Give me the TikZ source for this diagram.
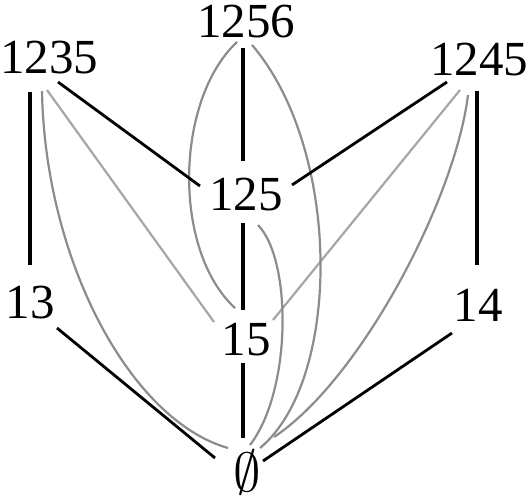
\RequirePackage{fix-cm}
\documentclass[tikz,border=0pt]{standalone}
\usepackage{fontspec}
\setmainfont{Liberation Serif}
\begin{document}
\begin{tikzpicture}[x=1pt,y=-1pt,
  lab/.style={inner sep=0pt,font=\fontsize{49}{58}\selectfont},
  blk/.style={black,line width=2.8pt},
  vblk/.style={black,line width=4pt},
  gcurve/.style={color=black!45,line width=2.2pt},
  gline/.style={color=black!35,line width=2.2pt}]
\useasboundingbox (0,0) rectangle (529,495);
\node[lab] (n1256) at (246,22) {1256};
\node[lab] (n1235) at (49,58) {1235};
\node[lab] (n1245) at (479,60) {1245};
\node[lab] (n125) at (246,195) {125};
\node[lab] (n13) at (30,303) {13};
\node[lab] (n15) at (246,340) {15};
\node[lab] (n14) at (478,305) {14};
\node[lab,font=\fontsize{55}{64}\selectfont] (n0) at (247,472) {$\emptyset$};
% gray connectors
\draw[gline] ([shift={(-2,32)}]n1235.center) -- ([shift={(-32,-18)}]n15.center);
\draw[gline] ([shift={(-19,30)}]n1245.center) -- ([shift={(27,-20)}]n15.center);
\draw[gcurve] ([shift={(-7,33)}]n1235.center) .. controls (45,260) and (130,420) .. ([shift={(-19,-24)}]n0.center);
\draw[gcurve] ([shift={(-9,20)}]n1256.center) .. controls (175,100) and (172,250) .. ([shift={(-11,-32)}]n15.center);
\draw[gcurve] ([shift={(6,23)}]n1256.center) .. controls (342,150) and (342,380) .. ([shift={(13,-24)}]n0.center);
\draw[gcurve] ([shift={(-11,35)}]n1245.center) .. controls (455,200) and (360,380) .. ([shift={(27,-35)}]n0.center);
\draw[gcurve] ([shift={(12,30)}]n125.center) .. controls (292,260) and (292,390) .. ([shift={(3,-27)}]n0.center);
% black connectors
\draw[vblk] ([shift={(-19,34)}]n1235.center) -- ([shift={(0,-38)}]n13.center);
\draw[blk] ([shift={(9,24)}]n1235.center) -- ([shift={(-46,-9)}]n125.center);
\draw[vblk] ([shift={(-3,26)}]n1256.center) -- ([shift={(-3,-34)}]n125.center);
\draw[blk] ([shift={(-32,22)}]n1245.center) -- ([shift={(46,-10)}]n125.center);
\draw[vblk] ([shift={(-2,31)}]n1245.center) -- ([shift={(-1,-40)}]n14.center);
\draw[vblk] ([shift={(-3,28)}]n125.center) -- ([shift={(-3,-30)}]n15.center);
\draw[blk] ([shift={(27,25)}]n13.center) -- ([shift={(-32,-14)}]n0.center);
\draw[vblk] ([shift={(-3,23)}]n15.center) -- ([shift={(-4,-34)}]n0.center);
\draw[blk] ([shift={(-26,28)}]n14.center) -- ([shift={(16,-11)}]n0.center);
\end{tikzpicture}
\end{document}
